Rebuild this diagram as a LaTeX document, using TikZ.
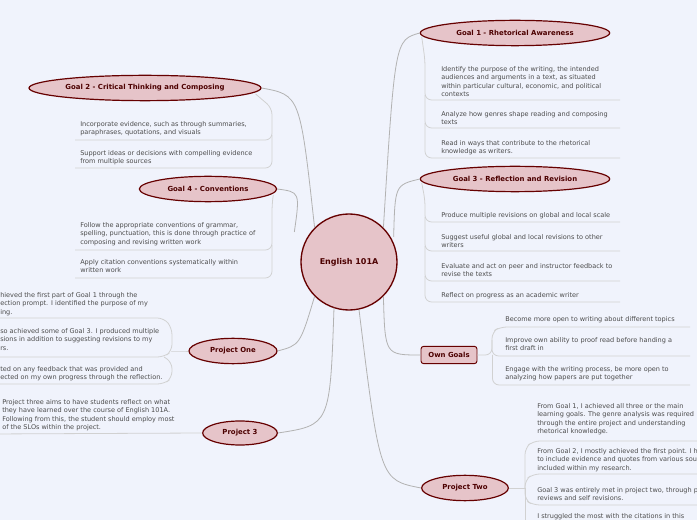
\documentclass[tikz,border=0pt]{standalone}
\usepackage{fontspec}
\setmainfont{DejaVu Sans}
\usetikzlibrary{shapes.geometric}
\begin{document}
\begin{tikzpicture}[x=0.75pt,y=-0.75pt,
  goal/.style={ellipse,draw=red!40!black,line width=0.9pt,fill=pinkf,font=\fontsize{5.2}{6}\selectfont\bfseries,text=red!30!black,inner sep=0},
  item/.style={anchor=north west,align=left,font=\fontsize{4.9}{6.3}\selectfont,text=black!70,inner sep=0},
  conn/.style={draw=black!30,line width=0.6pt},
  sub/.style={draw=black!18,line width=0.6pt,rounded corners=5pt}]
\definecolor{pinkf}{HTML}{E6C4C9}
\definecolor{bgc}{HTML}{F0F3FC}
\useasboundingbox (0,0) rectangle (697,520);
\fill[bgc] (0,0) rectangle (697,520);
\clip (0,0) rectangle (697,520);
% center
\node[circle,draw=red!40!black,line width=1pt,fill=pinkf,minimum size=72pt,font=\fontsize{6}{7}\selectfont\bfseries,text=red!30!black] (c) at (349,262) {English 101A};
\node[goal,minimum width=142pt,minimum height=19pt] (g1) at (515,33) {Goal 1 - Rhetorical Awareness};
\node[goal,minimum width=142pt,minimum height=19pt] (g3) at (515,179) {Goal 3 - Reflection and Revision};
\node[goal,minimum width=174pt,minimum height=19pt] (g2) at (145,88) {Goal 2 - Critical Thinking and Composing};
\node[goal,minimum width=103pt,minimum height=19pt] (g4) at (208,189) {Goal 4 - Conventions};
\node[goal,minimum width=66pt,minimum height=19pt] (p1) at (233,351) {Project One};
\node[goal,minimum width=56pt,minimum height=18pt] (p3) at (240,433) {Project 3};
\node[goal,minimum width=65pt,minimum height=19pt] (p2) at (465,488) {Project Two};
\node[goal,rectangle,rounded corners=2pt,minimum width=42pt,minimum height=13pt,line width=0.7pt] (og) at (449,355) {Own Goals};
% connectors
\draw[conn] (c.north east) .. controls (395,40) .. (g1.west);
\draw[conn] (c.east) ++(-4,-25) .. controls (395,185) .. (g3.west);
\draw[conn] (c.north west) .. controls (300,95) .. (g2.east);
\draw[conn] (c.west) ++(-6,-30) .. controls (300,192) .. (g4.east);
\draw[conn] (c.south west) .. controls (300,345) .. (p1.east);
\draw[conn] (c.south) ++(-15,-3) .. controls (330,425) .. (p3.east);
\draw[conn] (c.south east) .. controls (385,355) .. (og.west);
\draw[conn] (c.south) ++(10,-1) .. controls (380,480) .. (p2.west);
% goal1 items
\draw[sub] (g1.west) ++(2,4) -- (425,60) |- (620,100);
\draw[sub] (425,95) |- (620,128);
\draw[sub] (425,123) |- (620,158);
\node[item] (a1) at (441,66) {Identify the purpose of the writing, the intended\\audiences and arguments in a text, as situated\\within particular cultural, economic, and political\\contexts};
\node[item] (a2) at (441,111) {Analyze how genres shape reading and composing\\texts};
\node[item] (a3) at (441,140) {Read in ways that contribute to the rhetorical\\knowledge as writers.};
% goal3 items
\draw[sub] (g3.west) ++(2,4) -- (425,200) |- (620,222);
\draw[sub] (425,217) |- (620,251);
\draw[sub] (425,246) |- (620,281);
\draw[sub] (425,276) |- (620,302);
\node[item] (b1) at (441,212) {Produce multiple revisions on global and local scale};
\node[item] (b2) at (441,234) {Suggest useful global and local revisions to other\\writers};
\node[item] (b3) at (441,263) {Evaluate and act on peer and instructor feedback to\\revise the texts};
\node[item] (b4) at (441,292) {Reflect on progress as an academic writer};
% goal2 items
\draw[sub] (g2.east) ++(-6,6) -- (272,108) |- (75,140);
\draw[sub] (272,135) |- (75,168);
\node[item] (d1) at (80,121) {Incorporate evidence, such as through summaries,\\paraphrases, quotations, and visuals};
\node[item] (d2) at (80,150) {Support ideas or decisions with compelling evidence\\from multiple sources};
% goal4 items
\draw[sub] (g4.east) ++(-4,6) -- (272,205) |- (75,250);
\draw[sub] (272,245) |- (75,278);
\node[item] (e1) at (80,222) {Follow the appropriate conventions of grammar,\\spelling, punctuation, this is done through practice of\\composing and revising written work};
\node[item] (e2) at (80,259) {Apply citation conventions systematically within\\written work};
% project one
\draw[sub] (p1.west) -- (178,351) -- (172,351);
\draw[sub] (-10,318) -- (164,318) -- (172,328) -- (172,351) -- (164,357) -- (-10,357);
\draw[sub] (164,357) -- (172,362) -- (172,378) -- (164,384) -- (-10,384);
\node[item] (f1) at (0,292) {hieved the first part of Goal 1 through the\\ection prompt. I identified the purpose of my\\ing.};
\node[item] (f2) at (0,328) {so achieved some of Goal 3. I produced multiple\\sions in addition to suggesting revisions to my\\rs.};
\node[item] (f3) at (0,366) {ted on any feedback that was provided and\\ected on my own progress through the reflection.};
% project 3
\draw[sub] (p3.west) -- (-10,434);
\node[item] (h1) at (2,399) {Project three aims to have students reflect on what\\they have learned over the course of English 101A.\\Following from this, the student should employ most\\of the SLOs within the project.};
% own goals
\draw[sub] (og.east) -- (492,355) -- (492,332) -- (500,327) -- (690,327);
\draw[sub] (492,340) |- (690,356);
\draw[sub] (og.east) ++(15,0) |- (690,385);
\node[item] (i1) at (505,316) {Become more open to writing about different topics};
\node[item] (i2) at (505,337) {Improve own ability to proof read before handing a\\first draft in};
\node[item] (i3) at (505,366) {Engage with the writing process, be more open to\\analyzing how papers are put together};
% project two
\draw[sub] (p2.east) -- (525,488);
\draw[sub] (525,488) -- (525,448) -- (533,441) -- (700,441);
\draw[sub] (525,488) -- (525,480) -- (533,474) -- (700,474);
\draw[sub] (525,488) -- (525,500) -- (533,505) -- (700,505);
\draw[sub] (525,488) -- (525,530);
\node[item] (j1) at (537,403) {From Goal 1, I achieved all three or the main\\learning goals. The genre analysis was required\\through the entire project and understanding\\rhetorical knowledge.};
\node[item] (j2) at (537,448) {From Goal 2, I mostly achieved the first point. I h\\to include evidence and quotes from various sour\\included within my research.};
\node[item] (j3) at (537,487) {Goal 3 was entirely met in project two, through p\\reviews and self revisions.};
\node[item] (j4) at (537,513) {I struggled the most with the citations in this};
\end{tikzpicture}
\end{document}
